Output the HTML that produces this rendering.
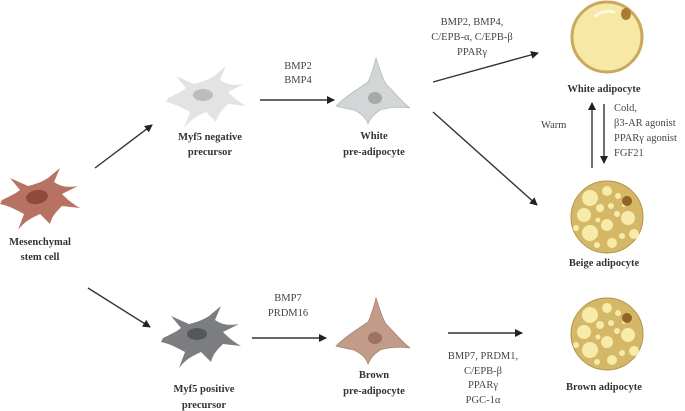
<!DOCTYPE html>
<html><head><meta charset="utf-8"><style>
html,body{margin:0;padding:0;background:#fff;}
svg{display:block}
text{font-family:"Liberation Serif",serif;font-size:10.5px;fill:#444;}
.b{font-weight:bold;fill:#333;}
</style></head><body>
<svg width="685" height="411" viewBox="0 0 685 411" xmlns="http://www.w3.org/2000/svg">
<defs>
<marker id="ah" markerWidth="8" markerHeight="8" refX="7" refY="4" orient="auto" markerUnits="userSpaceOnUse"><path d="M0,0 L8,4 L0,8 Z" fill="#222"/></marker>
<g id="star">
<path d="M-38,0 C-30,-4 -25,-6 -20,-10 L-30,-22 L-12,-14 C-4,-16 2,-18 8,-22 L20,-32 L14,-18 C20,-14 26,-12 38,-14 L22,-6 C26,-2 30,2 40,8 L22,6 C16,12 12,16 10,24 L0,14 C-8,18 -14,20 -22,30 L-16,14 C-24,10 -30,6 -40,4 Z"/>
</g>
<g id="pre">
<path d="M-36,10 C-24,-2 -12,-8 -4,-14 C0,-22 2,-30 4,-38 C8,-26 10,-18 14,-12 C22,-4 30,6 38,12 C26,10 14,12 8,14 C2,18 -2,22 -4,28 C-6,22 -10,18 -18,14 C-26,12 -30,12 -36,10 Z"/>
</g>
</defs>

<!-- MSC -->
<use href="#star" x="40" y="200" fill="#b87263"/>
<ellipse cx="37" cy="197" rx="11" ry="7" fill="#8f4a3c" transform="rotate(-10 37 197)"/>
<text class="b" x="40" y="245" text-anchor="middle">Mesenchymal</text>
<text class="b" x="40" y="260" text-anchor="middle">stem cell</text>

<!-- Myf5 negative -->
<use href="#star" x="206" y="98" fill="#e3e3e3"/>
<ellipse cx="203" cy="95" rx="10" ry="6" fill="#bcbcbc"/>
<text class="b" x="210" y="140" text-anchor="middle">Myf5 negative</text>
<text class="b" x="210" y="155" text-anchor="middle">precursor</text>

<!-- Myf5 positive -->
<use href="#star" x="201" y="338" fill="#7b7d80"/>
<ellipse cx="197" cy="334" rx="10" ry="6" fill="#55575a"/>
<text class="b" x="204" y="392" text-anchor="middle">Myf5 positive</text>
<text class="b" x="204" y="408" text-anchor="middle">precursor</text>

<!-- White pre-adipocyte -->
<use href="#pre" x="372" y="96" fill="#d3d6d6" stroke="#b8bbbb" stroke-width="0.8"/>
<ellipse cx="375" cy="98" rx="7" ry="6" fill="#a8aaaa"/>
<text class="b" x="374" y="139" text-anchor="middle">White</text>
<text class="b" x="374" y="155" text-anchor="middle">pre-adipocyte</text>

<!-- Brown pre-adipocyte -->
<use href="#pre" x="372" y="336" fill="#c39b89" stroke="#a98272" stroke-width="0.8"/>
<ellipse cx="375" cy="338" rx="7" ry="6" fill="#9d7262"/>
<text class="b" x="374" y="378" text-anchor="middle">Brown</text>
<text class="b" x="374" y="394" text-anchor="middle">pre-adipocyte</text>

<!-- arrows -->
<g stroke="#333" stroke-width="1.4" marker-end="url(#ah)">
<line x1="95" y1="168" x2="152" y2="125"/>
<line x1="88" y1="288" x2="150" y2="327"/>
<line x1="260" y1="100" x2="334" y2="100"/>
<line x1="252" y1="338" x2="326" y2="338"/>
<line x1="433" y1="82" x2="538" y2="53"/>
<line x1="433" y1="112" x2="537" y2="205"/>
<line x1="448" y1="333" x2="522" y2="333"/>
<line x1="592" y1="168" x2="592" y2="103"/>
<line x1="604" y1="104" x2="604" y2="163"/>
</g>

<!-- labels -->
<text x="298" y="69" text-anchor="middle">BMP2</text>
<text x="298" y="83" text-anchor="middle">BMP4</text>
<text x="288" y="301" text-anchor="middle">BMP7</text>
<text x="288" y="316" text-anchor="middle">PRDM16</text>
<text x="472" y="25" text-anchor="middle">BMP2, BMP4,</text>
<text x="472" y="40" text-anchor="middle">C/EPB-α, C/EPB-β</text>
<text x="472" y="55" text-anchor="middle">PPARγ</text>
<text x="541" y="128">Warm</text>
<text x="614" y="111">Cold,</text>
<text x="614" y="126">β3-AR agonist</text>
<text x="614" y="141">PPARγ agonist</text>
<text x="614" y="156">FGF21</text>
<text x="483" y="359" text-anchor="middle">BMP7, PRDM1,</text>
<text x="483" y="374" text-anchor="middle">C/EPB-β</text>
<text x="483" y="388" text-anchor="middle">PPARγ</text>
<text x="483" y="403" text-anchor="middle">PGC-1α</text>

<!-- White adipocyte -->
<ellipse cx="607" cy="37" rx="35" ry="35" fill="#f7e8a6" stroke="#c9a95c" stroke-width="3"/>
<ellipse cx="626" cy="14" rx="5" ry="6" fill="#a97b32"/>
<path d="M595,16 Q605,9 614,12" stroke="#fff8dc" stroke-width="3" fill="none" stroke-linecap="round"/>
<text class="b" x="604" y="92" text-anchor="middle">White adipocyte</text>

<!-- Beige -->
<g id="beige">
<ellipse cx="607" cy="217" rx="36" ry="36" fill="#d4b767" stroke="#b0954a" stroke-width="1"/>
<g fill="#f8eaa8">
<circle cx="590" cy="198" r="8"/><circle cx="607" cy="191" r="5"/><circle cx="618" cy="196" r="3"/>
<circle cx="584" cy="215" r="7"/><circle cx="600" cy="208" r="4"/><circle cx="611" cy="206" r="3"/>
<circle cx="628" cy="218" r="7"/><circle cx="634" cy="234" r="5"/><circle cx="590" cy="233" r="8"/>
<circle cx="607" cy="225" r="6"/><circle cx="612" cy="243" r="5"/><circle cx="622" cy="236" r="3"/>
<circle cx="597" cy="245" r="3"/><circle cx="576" cy="228" r="3"/><circle cx="617" cy="214" r="3"/>
<circle cx="598" cy="220" r="2.5"/><circle cx="624" cy="205" r="2"/>
</g>
<circle cx="627" cy="201" r="5" fill="#8f6425"/>
</g>
<text class="b" x="604" y="266" text-anchor="middle">Beige adipocyte</text>

<!-- Brown adipocyte -->
<use href="#beige" x="0" y="117"/>
<text class="b" x="604" y="390" text-anchor="middle">Brown adipocyte</text>
</svg>
</body></html>
